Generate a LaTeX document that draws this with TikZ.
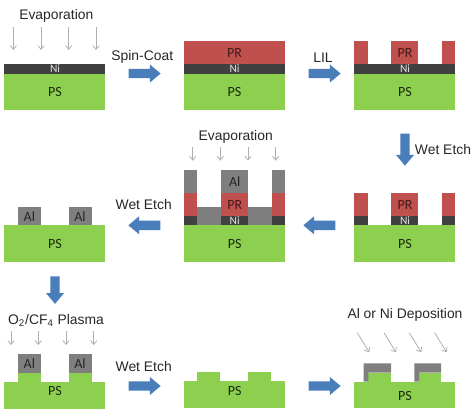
\documentclass[tikz,border=0pt]{standalone}
\usepackage{fontspec}
\setmainfont{Liberation Sans}
\newfontfamily\layerfont{Carlito}
\usetikzlibrary{shapes.arrows, arrows.meta}
\definecolor{ps}{RGB}{141, 207, 78}
\definecolor{pr}{RGB}{192, 80, 77}
\definecolor{ni}{RGB}{64, 64, 64}
\definecolor{al}{RGB}{127, 127, 127}
\definecolor{flow}{RGB}{74, 126, 187}
\definecolor{dropgray}{RGB}{175, 175, 175}

\begin{document}
\begin{tikzpicture}[
    x=0.02cm, y=-0.02cm,
    steplabel/.style={font=\fontsize{7.9}{9.5}\selectfont, text=black!85, inner sep=0pt},
    pstext/.style={font=\layerfont\fontsize{8}{9}\selectfont, text=ps!20!black, inner sep=0pt},
    prtext/.style={font=\layerfont\fontsize{8}{9}\selectfont, text=pr!35!black, inner sep=0pt},
    altext/.style={font=\layerfont\fontsize{8}{9}\selectfont, text=black!85, inner sep=0pt},
    nitext/.style={font=\layerfont\fontsize{6.5}{8}\selectfont, text=white!90!black, inner sep=0pt},
    flowarrow/.style={
        single arrow, fill=flow, draw=none, inner xsep=0pt, inner ysep=0.087cm,
        minimum height=0.64cm, minimum width=0.34cm,
        single arrow head extend=0.085cm, single arrow tip angle=80,
        anchor=tail,
    },
    drop/.style={-{Straight Barb[length=2.2pt, width=3.6pt]}, draw=dropgray, line width=0.45pt},
]
\useasboundingbox (0,0) rectangle (474,414);

% Column left edges of the three stacks
\def\ca{4}
\def\cb{184}
\def\cc{354.3}

% =============== Row 1: Evaporation ===============
\fill[ps] (\ca,73.5) rectangle +(101,36.5);
\fill[ni] (\ca,64) rectangle +(101,9.5);
\node[steplabel] (evapa) at (56.3,16) {Evaporation};
\node[nitext] (nia) at (55,69) {Ni};
\node[pstext] (psa) at (55,92.3) {PS};
\foreach \x [count=\i] in {13.3,41,68.7,96} {
    \coordinate (evapatop\i) at (\x,27);
    \coordinate (evapabot\i) at (\x,50);
    \draw[drop] (evapatop\i) -- (evapabot\i);
}

% =============== Row 1: Spin-Coat ===============
\fill[ps] (\cb,73.5) rectangle +(101,36.5);
\fill[ni] (\cb,64) rectangle +(101,9.5);
\fill[pr] (\cb,41) rectangle +(101,23);
\node[prtext] (prb) at (234.5,53) {PR};
\node[nitext] (nib) at (234.5,69) {Ni};
\node[pstext] (psb) at (234.5,92.3) {PS};
\node[steplabel] (spin) at (142.3,57.3) {Spin-Coat};
\node[flowarrow] (spinarrow) at (128.3,73.5) {};

% =============== Row 1: LIL ===============
\fill[ps] (\cc,73.5) rectangle +(101,36.5);
\fill[ni] (\cc,64) rectangle +(101,9.5);
\fill[pr] (354.3,41) rectangle (368,64);
\fill[pr] (391,41) rectangle (418.3,64);
\fill[pr] (441.7,41) rectangle (455.3,64);
\node[prtext] (prc) at (405,53) {PR};
\node[nitext] (nic) at (405,69) {Ni};
\node[pstext] (psc) at (405,92.3) {PS};
\node[steplabel] (lil) at (323,57.3) {LIL};
\node[flowarrow] (lilarrow) at (308.3,73.5) {};

% =============== Row 2: Wet Etch of Ni ===============
\node[flowarrow, rotate=-90] (etcharrow) at (405,133.3) {};
\node[steplabel] (etcha) at (443,149.3) {Wet Etch};
\fill[ps] (\cc,225.3) rectangle +(101,36.7);
\fill[ni] (354.3,216) rectangle (368,225.3);
\fill[ni] (391,216) rectangle (418.3,225.3);
\fill[ni] (441.7,216) rectangle (455.3,225.3);
\fill[pr] (354.3,193.3) rectangle (368,216);
\fill[pr] (391,193.3) rectangle (418.3,216);
\fill[pr] (441.7,193.3) rectangle (455.3,216);
\node[prtext] (prd) at (405,205.3) {PR};
\node[nitext] (nid) at (405,221) {Ni};
\node[pstext] (psd) at (405,244.3) {PS};

% =============== Row 2: Evaporation of Al ===============
\node[flowarrow, rotate=180] (evaparrow) at (335.7,225.3) {};
\fill[ps] (\cb,225.3) rectangle +(101,36.7);
\fill[al] (197.3,207.3) rectangle (271.7,225.3);
\fill[ni] (184,216) rectangle (197.3,225.3);
\fill[ni] (220.7,216) rectangle (248,225.3);
\fill[ni] (271.7,216) rectangle (285,225.3);
\fill[pr] (184,193.3) rectangle (197.3,216);
\fill[pr] (220.7,193.3) rectangle (248,216);
\fill[pr] (271.7,193.3) rectangle (285,216);
\fill[al] (184,170.3) rectangle (197.3,193.3);
\fill[al] (220.7,170.3) rectangle (248,193.3);
\fill[al] (271.7,170.3) rectangle (285,193.3);
\node[altext] (ale) at (234.7,181.7) {Al};
\node[prtext] (pre) at (234.7,205.3) {PR};
\node[nitext] (nie) at (234.7,221) {Ni};
\node[pstext] (pse) at (234.7,244.3) {PS};
\node[steplabel] (evapb) at (235.7,136.7) {Evaporation};
\foreach \x [count=\i] in {192.7,220.3,248,275.7} {
    \coordinate (evapbtop\i) at (\x,146.7);
    \coordinate (evapbbot\i) at (\x,160.7);
    \draw[drop] (evapbtop\i) -- (evapbbot\i);
}

% =============== Row 2: Wet Etch lift-off ===============
\node[steplabel] (etchb) at (143.7,204.7) {Wet Etch};
\node[flowarrow, rotate=180] (liftarrow) at (160.7,225.3) {};
\fill[ps] (\ca,225.3) rectangle +(101,36.7);
\fill[al] (18,207) rectangle (41,225.3);
\fill[al] (68.5,207) rectangle (91.5,225.3);
\node[altext] (alfa) at (29.3,216.7) {Al};
\node[altext] (alfb) at (80,216.7) {Al};
\node[pstext] (psf) at (55,244.3) {PS};

% =============== Row 3: Plasma ===============
\node[flowarrow, rotate=-90, minimum height=0.55cm] (plasmaarrow) at (55,276) {};
\node[steplabel] (plasma) at (56,320.7) {O\textsubscript{2}/CF\textsubscript{4} Plasma};
\foreach \x [count=\i] in {11,38.3,66,93.7} {
    \coordinate (plasmatop\i) at (\x,331);
    \coordinate (plasmabot\i) at (\x,345);
    \draw[drop] (plasmatop\i) -- (plasmabot\i);
}
\fill[ps] (\ca,381.7) rectangle +(101,27);
\fill[ps] (18,372.7) rectangle (41,381.7);
\fill[ps] (68.5,372.7) rectangle (91.5,381.7);
\fill[al] (18,354.3) rectangle (41,372.7);
\fill[al] (68.5,354.3) rectangle (91.5,372.7);
\node[altext] (alga) at (29.3,364) {Al};
\node[altext] (algb) at (80,364) {Al};
\node[pstext] (psg) at (55,391.3) {PS};

% =============== Row 3: Wet Etch of Al ===============
\node[steplabel] (etchc) at (143.7,366.3) {Wet Etch};
\node[flowarrow] (etchcarrow) at (128.3,386) {};
\fill[ps] (\cb,381.3) rectangle +(101,27);
\fill[ps] (197.3,372.3) rectangle (220,381.3);
\fill[ps] (248,372.3) rectangle (271,381.3);
\node[pstext] (psh) at (234.7,391.3) {PS};

% =============== Row 3: Al or Ni Deposition ===============
\node[flowarrow] (deparrow) at (308.3,386) {};
\node[steplabel] (depo) at (405,315.3) {Al or Ni Deposition};
\foreach \x [count=\i] in {357.3,384,409.3,434.7} {
    \coordinate (deptop\i) at (\x,332.7);
    \coordinate (depbot\i) at (\x+12,352.3);
    \draw[drop] (deptop\i) -- (depbot\i);
}
\fill[ps] (353.7,381.7) rectangle (455,408.3);
\fill[ps] (368.3,372.7) rectangle (391,381.7);
\fill[ps] (419,372.7) rectangle (441,381.7);
\fill[al] (363.7,363.3) -- (391,363.3) -- (391,372.7) -- (368.3,372.7)
    -- (368.3,381.7) -- (363.7,381.7) -- cycle;
\fill[al] (414.3,363.3) -- (441,363.3) -- (441,372.7) -- (419,372.7)
    -- (419,381.7) -- (414.3,381.7) -- cycle;
\node[pstext] (psi) at (405,395.7) {PS};

\end{tikzpicture}
\end{document}
